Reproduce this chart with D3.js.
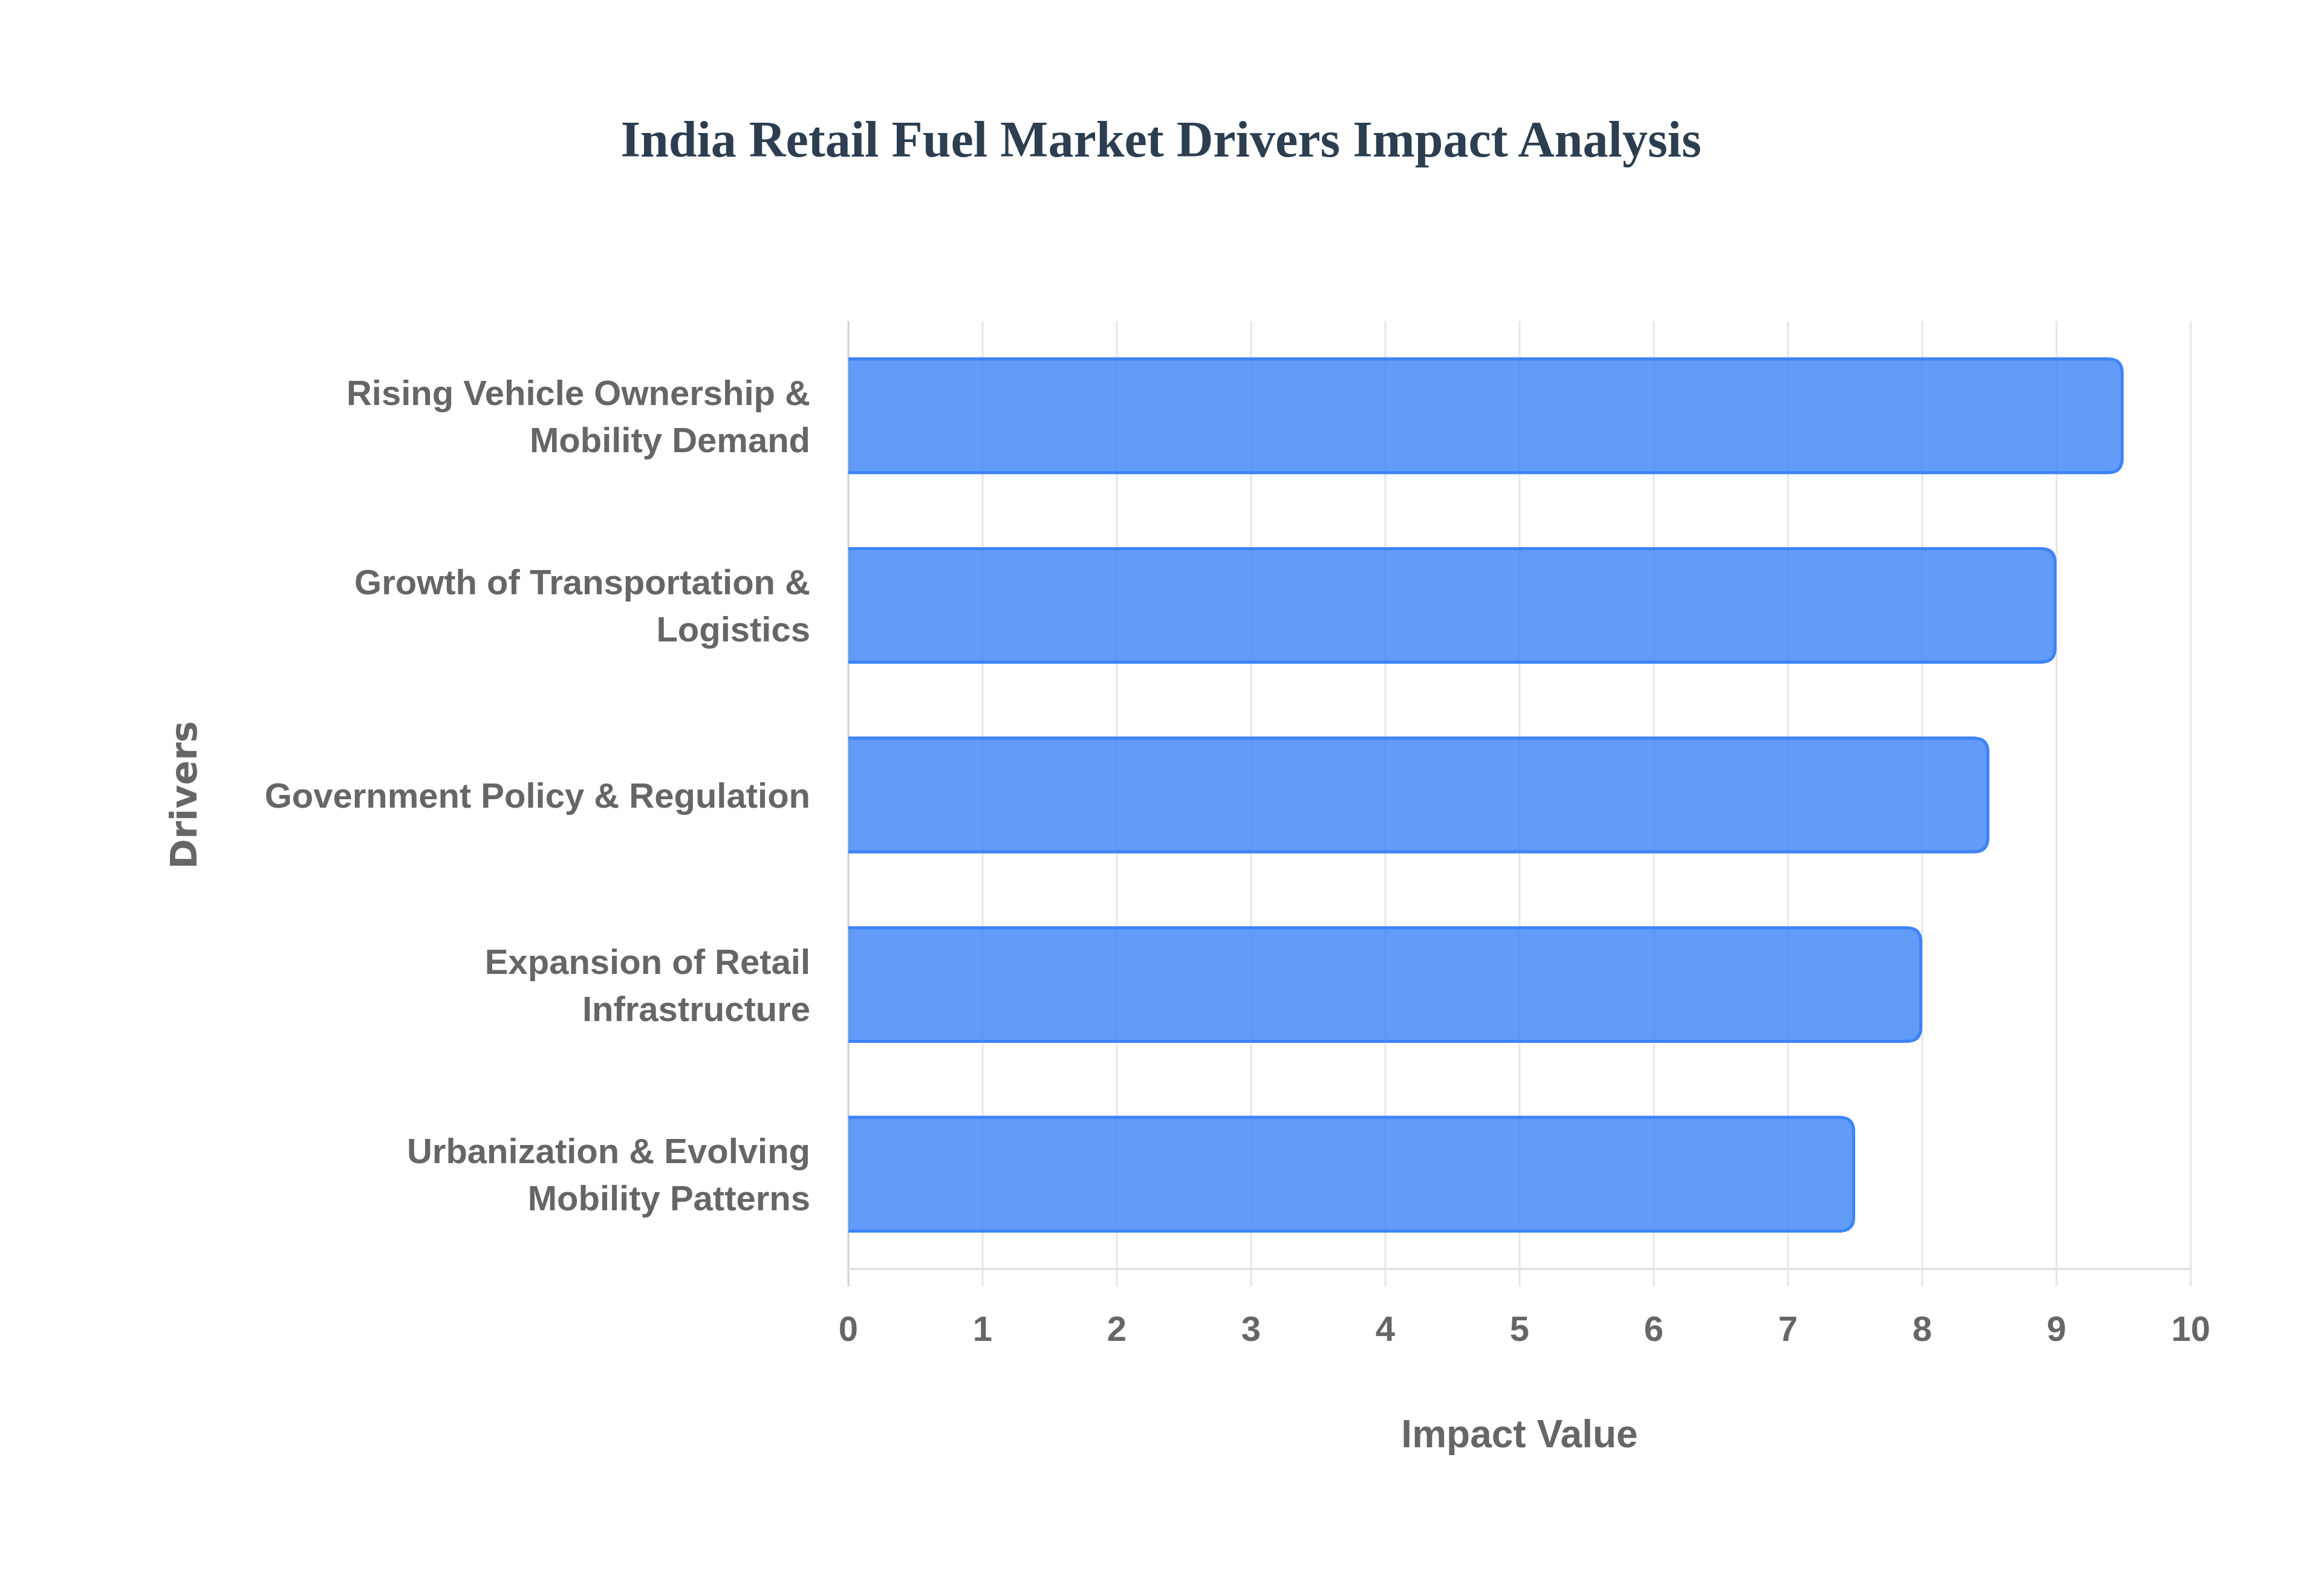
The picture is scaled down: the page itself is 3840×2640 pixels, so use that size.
<!DOCTYPE html>
<html>
<head>
<meta charset="utf-8">
<script src="https://cdn.jsdelivr.net/npm/d3@7"></script>
<style>
  html, body { margin: 0; padding: 0; background: #fff; }
  svg { display: block; }
</style>
</head>
<body>
<svg id="chart"></svg>
<script>
// chart data
const drivers = [
  ["Rising Vehicle Ownership &", "Mobility Demand"],
  ["Growth of Transportation &", "Logistics"],
  ["Government Policy & Regulation"],
  ["Expansion of Retail", "Infrastructure"],
  ["Urbanization & Evolving", "Mobility Patterns"]
];
const impactValues = [9.5, 9.0, 8.5, 8.0, 7.5];
const xTicks = [0, 1, 2, 3, 4, 5, 6, 7, 8, 9, 10];

const chartTitle = "India Retail Fuel Market Drivers Impact Analysis";
const xTitle = "Impact Value";
const yTitle = "Drivers";

const width = 3840,
  height = 2640;
const plot = { left: 1403, right: 3623, top: 531, bottom: 2099 };

const svg = d3.select("#chart").attr("width", width).attr("height", height);

const x = d3.scaleLinear().domain([0, 10]).range([plot.left, plot.right]);
const y = d3
  .scaleBand()
  .domain(drivers.map((d, i) => i))
  .range([plot.top, plot.bottom])
  .paddingInner(0.385)
  .paddingOuter(0.1925);

const sans = "'Liberation Sans', Arial, sans-serif";

// title
svg
  .append("text")
  .attr("x", width / 2)
  .attr("y", 259)
  .attr("text-anchor", "middle")
  .attr("font-family", "'Liberation Serif', 'Times New Roman', serif")
  .attr("font-weight", "bold")
  .attr("font-size", 84)
  .attr("fill", "#2c3e50")
  .text(chartTitle);

// vertical grid lines (extend below axis as tick marks)
svg
  .append("g")
  .selectAll("line")
  .data(xTicks)
  .join("line")
  .attr("x1", (d) => x(d))
  .attr("x2", (d) => x(d))
  .attr("y1", plot.top)
  .attr("y2", plot.bottom + 29)
  .attr("stroke", (d) => (d === 0 ? "#cfcfcf" : "#e6e6e6"))
  .attr("stroke-width", 3);

// x axis border line
svg
  .append("line")
  .attr("x1", plot.left)
  .attr("x2", plot.right)
  .attr("y1", plot.bottom)
  .attr("y2", plot.bottom)
  .attr("stroke", "#e3e3e3")
  .attr("stroke-width", 4);

// bars: round end only, no border on the start side
const r = 26,
  sw = 5;

function barFill(v, i) {
  const x0 = x(0),
    x1 = x(v),
    y0 = y(i),
    y1 = y(i) + y.bandwidth();
  return `M${x0},${y0}H${x1 - r}Q${x1},${y0} ${x1},${y0 + r}V${y1 - r}Q${x1},${y1} ${x1 - r},${y1}H${x0}Z`;
}

function barEdge(v, i) {
  const h = sw / 2,
    x0 = x(0),
    x1 = x(v) - h,
    y0 = y(i) + h,
    y1 = y(i) + y.bandwidth() - h,
    rr = r - h;
  return `M${x0},${y0}H${x1 - rr}Q${x1},${y0} ${x1},${y0 + rr}V${y1 - rr}Q${x1},${y1} ${x1 - rr},${y1}H${x0}`;
}

const bars = svg.append("g").selectAll("g").data(impactValues).join("g");

bars
  .append("path")
  .attr("d", (d, i) => barFill(d, i))
  .attr("fill", "rgba(59,130,246,0.8)");

bars
  .append("path")
  .attr("d", (d, i) => barEdge(d, i))
  .attr("fill", "none")
  .attr("stroke", "#3b82f6")
  .attr("stroke-width", sw)
  .attr("opacity", 0.9);

// y tick labels
const yLabels = svg
  .append("g")
  .selectAll("text")
  .data(drivers)
  .join("text")
  .attr("text-anchor", "end")
  .attr("font-family", sans)
  .attr("font-weight", "bold")
  .attr("font-size", 58)
  .attr("fill", "#666");

yLabels.each(function (lines, i) {
  const c = y(i) + y.bandwidth() / 2;
  const start = c + 21 - ((lines.length - 1) * 78) / 2;
  d3.select(this)
    .selectAll("tspan")
    .data(lines)
    .join("tspan")
    .attr("x", 1340)
    .attr("y", (d, j) => start + j * 78)
    .text((d) => d);
});

// x tick labels
svg
  .append("g")
  .selectAll("text")
  .data(xTicks)
  .join("text")
  .attr("x", (d) => x(d))
  .attr("y", 2218)
  .attr("text-anchor", "middle")
  .attr("font-family", sans)
  .attr("font-weight", "bold")
  .attr("font-size", 58)
  .attr("fill", "#666")
  .text((d) => d);

// axis titles
svg
  .append("text")
  .attr("x", (plot.left + plot.right) / 2)
  .attr("y", 2394)
  .attr("text-anchor", "middle")
  .attr("font-family", sans)
  .attr("font-weight", "bold")
  .attr("font-size", 64)
  .attr("fill", "#666")
  .text(xTitle);

svg
  .append("text")
  .attr("transform", `translate(325,${(plot.top + plot.bottom) / 2}) rotate(-90)`)
  .attr("text-anchor", "middle")
  .attr("font-family", "'DejaVu Sans', sans-serif")
  .attr("font-weight", "bold")
  .attr("font-size", 60)
  .attr("fill", "#666")
  .text(yTitle);
</script>
</body>
</html>
